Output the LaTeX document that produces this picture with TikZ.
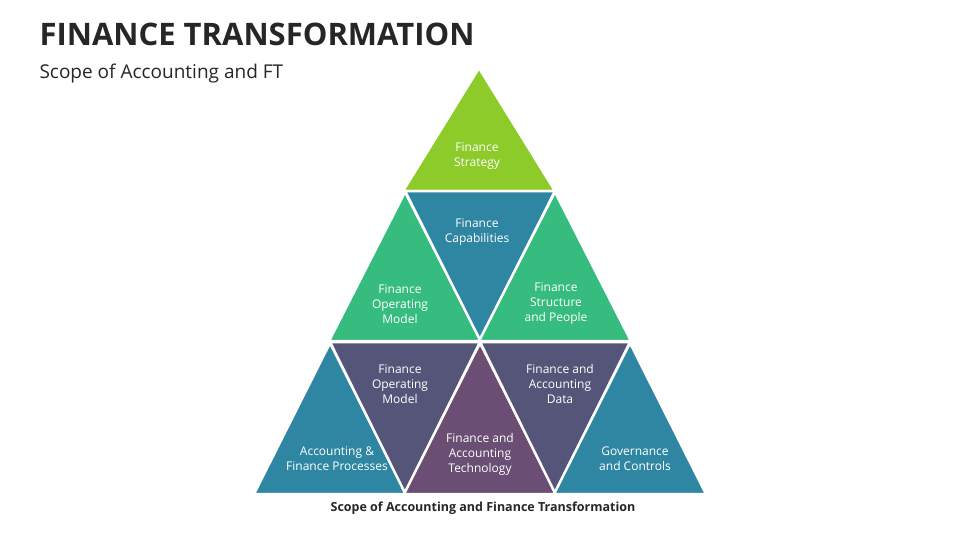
\documentclass[tikz,border=0pt]{standalone}
\usepackage{fontspec}
\setmainfont{Open Sans}
\definecolor{cgreen}{HTML}{8CCB2A}
\definecolor{cteal}{HTML}{36BC7F}
\definecolor{cblue}{HTML}{2F86A2}
\definecolor{cslate}{HTML}{555579}
\definecolor{cplum}{HTML}{6A4E73}
\definecolor{ctitle}{HTML}{262626}
\tikzset{tri/.style={draw=white,line width=2.5pt,line join=miter},
 lbl/.style={text=white,font=\fontsize{12}{15}\selectfont,align=center}}
\begin{document}
\begin{tikzpicture}[x=1pt,y=-1pt]
\useasboundingbox (0,0) rectangle (960,540);
\node[anchor=west,font=\bfseries\fontsize{31}{36}\selectfont,text=ctitle] (t) at (36,34) {FINANCE TRANSFORMATION};
\node[anchor=west,font=\fontsize{19}{22}\selectfont,text=ctitle] (s) at (36,74) {Scope of Accounting and FT};
% row 1
\fill[tri,fill=cgreen] (479,68) -- (555,191) -- (403,191) -- cycle;
% row 2
\fill[tri,fill=cteal] (405,192) -- (481,341) -- (329,341) -- cycle;
\fill[tri,fill=cblue] (405,191) -- (555,191) -- (480,340) -- cycle;
\fill[tri,fill=cteal] (555,192) -- (631,341) -- (479,341) -- cycle;
% row 3
\fill[tri,fill=cblue] (330,343) -- (406,494) -- (254,494) -- cycle;
\fill[tri,fill=cslate] (330,342) -- (480,342) -- (405,493) -- cycle;
\fill[tri,fill=cplum] (480,343) -- (556,494) -- (404,494) -- cycle;
\fill[tri,fill=cslate] (480,342) -- (630,342) -- (555,493) -- cycle;
\fill[tri,fill=cblue] (630,343) -- (706,494) -- (554,494) -- cycle;
\node[lbl] (n1) at (477,156) {Finance\\Strategy};
\node[lbl] (n2) at (400,304) {Finance\\Operating\\Model};
\node[lbl] (n3) at (477,232) {Finance\\Capabilities};
\node[lbl] (n4) at (556,304) {Finance\\Structure\\and People};
\node[lbl] (n5) at (337,459) {Accounting \&\\Finance Processes};
\node[lbl] (n6) at (400,384) {Finance\\Operating\\Model};
\node[lbl] (n7) at (480,454) {Finance and\\Accounting\\Technology};
\node[lbl] (n8) at (560,384) {Finance and\\Accounting\\Data};
\node[lbl] (n9) at (635,459) {Governance\\and Controls};
\node[font=\bfseries\fontsize{12.5}{15}\selectfont,text=ctitle] (cap) at (483,508) {Scope of Accounting and Finance Transformation};
\end{tikzpicture}
\end{document}
